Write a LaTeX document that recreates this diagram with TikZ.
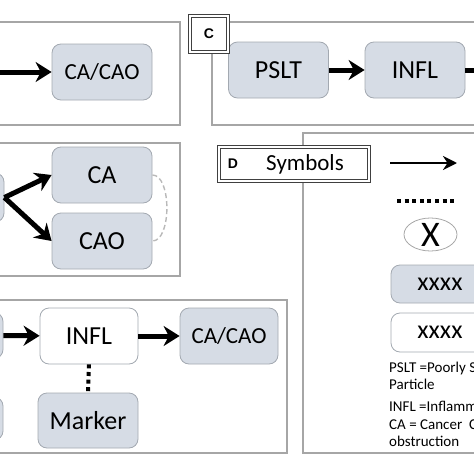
\documentclass[tikz,border=0pt]{standalone}
\usepackage{fontspec}
\setmainfont{Carlito}
\newfontfamily\tagfont{Liberation Sans}
\usetikzlibrary{arrows.meta, shapes.geometric}

\definecolor{boxfill}{HTML}{D6DCE5}
\definecolor{boxline}{HTML}{A3A9B1}
\definecolor{panelline}{HTML}{A6A6A6}
\definecolor{tagline}{HTML}{404040}

\newcommand{\bigtext}{\fontsize{26}{30}\selectfont}
\newcommand{\midtext}{\fontsize{23}{27}\selectfont}
\newcommand{\keytext}{\fontsize{15}{17}\selectfont}
\newcommand{\tagtext}{\tagfont\bfseries\fontsize{14}{16}\selectfont}

\tikzset{
  panel/.style={draw=panelline, line width=2.8pt},
  stage/.style={draw=boxline, line width=0.8pt, fill=boxfill, rounded corners=9pt,
    minimum width=100pt, minimum height=56pt, inner sep=0pt, font=\bigtext},
  stagewhite/.style={stage, fill=white},
  tag/.style={draw=tagline, line width=0.9pt, double=white, double distance=2.4pt,
    fill=white, inner sep=0pt, font=\tagtext},
  flow/.style={line width=5pt, -{Stealth[length=16pt,width=20pt]}},
  link/.style={line width=4pt, dash pattern=on 4pt off 3.6pt},
  keyline/.style={anchor=base west, inner sep=0pt, font=\keytext},
}

\begin{document}
\begin{tikzpicture}[x=1pt,y=-1pt]
            \useasboundingbox (0,0) rectangle (474,474);
            \clip (0,0) rectangle (474,474);

            % Panel A
            \draw[panel] (-20,22) rectangle (180,125);
            \node[stage, font=\midtext] (aout) at (102,72) {CA/CAO};
            \coordinate (ain) at (-6,72);
            \draw[flow] (ain) -- (aout);

            % Panel C
            \draw[panel] (212,22) rectangle (520,125);
            \node[stage] (cpslt) at (278.5,70) {PSLT};
            \node[stage] (cinfl) at (415,70) {INFL};
            \coordinate (cout) at (500,70);
            \draw[flow] (cpslt) -- (cinfl);
            \draw[flow] (cinfl) -- (cout);
            \node[tag, minimum width=38pt, minimum height=36pt] (ctag) at (209,34) {C};

            % Panel B
            \draw[panel] (-20,143) rectangle (180,276);
            \node[stage, minimum width=60pt, minimum height=49pt] (bin) at (-26,197.5) {};
            \node[stage] (bca) at (102,175) {CA};
            \node[stage] (bcao) at (102,241) {CAO};
            \draw[flow] (bin.east) -- (bca.west);
            \draw[flow] (bin.east) -- (bcao.west);
            \draw[gray!55, line width=1.4pt, dash pattern=on 5pt off 3pt]
              (bca.east) to[out=0, in=0, looseness=0.75] (bcao.east);

            % Panel D with the symbols
            \draw[panel] (303,133) rectangle (520,453);
            \node[tag, minimum width=150pt, minimum height=34pt] (dtag) at (294,164) {};
            \node[font=\tagtext] (dletter) at (233,164) {D};
            \node[font=\midtext] (dtitle) at (305,164) {Symbols};
            \coordinate (sa) at (390,163);
            \coordinate (sb) at (457,163);
            \draw[line width=2.8pt, -{Stealth[length=14pt,width=14pt]}] (sa) -- (sb);
            \coordinate (sc) at (397,201);
            \coordinate (sd) at (457,201);
            \draw[link] (sc) -- (sd);
            \node[ellipse, draw=gray!70, line width=0.8pt, minimum width=53pt,
              minimum height=33pt, inner sep=0pt, font=\fontsize{36}{40}\selectfont]
              (sx) at (430.5,234.5) {X};
            \node[stage, minimum width=98pt, minimum height=38pt] (sgray) at (440,284) {xxxx};
            \node[stagewhite, minimum width=98pt, minimum height=39pt] (swhite) at (440,332.5) {xxxx};

            % Abbreviations
            \node[keyline] (k1) at (389,372.5) {PSLT =Poorly Soluble};
            \node[keyline] (k2) at (389,389.3) {Particle};
            \node[keyline] (k3) at (389,411.7) {INFL =Inflammation};
            \node[keyline] (k4) at (389,429.3) {CA = Cancer\ \ CAO};
            \node[keyline] (k5) at (389,446) {obstruction};

            % Panel E
            \draw[panel] (-20,300) rectangle (287,453);
            \node[stage, minimum width=60pt, minimum height=46pt] (ein) at (-27,335.5) {};
            \node[stage, minimum width=60pt, minimum height=43pt] (elow) at (-27,418.5) {};
            \node[stagewhite, minimum width=98pt] (einfl) at (89,336) {INFL};
            \node[stage, minimum width=98pt, font=\midtext] (eout) at (229,336) {CA/CAO};
            \node[stage, minimum height=55pt] (emark) at (88,420.5) {Marker};
            \draw[flow] (ein) -- (einfl);
            \draw[flow] (einfl) -- (eout);
            \draw[link] (einfl.south) -- (emark.north);
        \end{tikzpicture}
\end{document}
